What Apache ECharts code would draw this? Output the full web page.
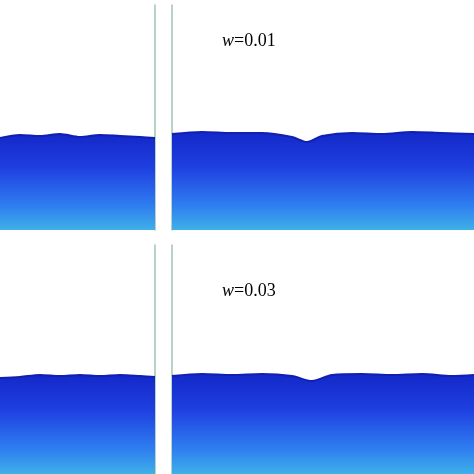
<!DOCTYPE html>
<html>
<head>
<meta charset="UTF-8">
<script src="https://cdn.jsdelivr.net/npm/echarts/dist/echarts.min.js"></script>
<style>html,body{margin:0;background:#fff}#c{width:474px;height:474px}</style>
</head>
<body>
<div id="c"></div>
<script>
// bed surface height (px above panel bottom) along panel x
var tlX = [0, 20, 40, 60, 80, 100, 120, 140, 155];
var tlH = [92, 95, 94, 96, 93, 95, 94, 93, 92];
var trX = [0, 30, 60, 90, 120, 135, 150, 180, 210, 240, 270, 302];
var trH = [96, 98, 97, 97, 93, 88, 94, 97, 96, 98, 97, 96];
var blX = [0, 20, 40, 60, 80, 100, 120, 140, 155];
var blH = [96, 97, 99, 98, 99, 98, 99, 98, 97];
var brX = [0, 30, 60, 90, 120, 140, 160, 190, 220, 250, 280, 302];
var brH = [98, 100, 99, 100, 98, 93, 99, 100, 99, 100, 98, 99];

function pts(xs, hs) { return xs.map(function (x, i) { return [x, hs[i]]; }); }
var fill = new echarts.graphic.LinearGradient(0, 0, 0, 1, [
  { offset: 0, color: '#1428c8' },
  { offset: 0.35, color: '#1f3fe0' },
  { offset: 0.75, color: '#2f7ef0' },
  { offset: 1, color: '#3fb0e8' }
]);
var grids = [
  { left: 0, top: 5, width: 155, height: 225 },
  { left: 172, top: 5, width: 302, height: 225 },
  { left: 0, top: 245, width: 155, height: 229 },
  { left: 172, top: 245, width: 302, height: 229 }
];
var data = [pts(tlX, tlH), pts(trX, trH), pts(blX, blH), pts(brX, brH)];
var xMax = [155, 302, 155, 302];
var yMax = [225, 225, 229, 229];
var lineCol = '#9cc4b4';
var font = { i: { fontStyle: 'italic', fontFamily: 'Liberation Serif', fontSize: 18 }, n: { fontFamily: 'Liberation Serif', fontSize: 18 } };
var option = {
  animation: false,
  grid: grids,
  xAxis: grids.map(function (g, i) {
    return { gridIndex: i, type: 'value', min: 0, max: xMax[i], show: false };
  }),
  yAxis: grids.map(function (g, i) {
    return {
      gridIndex: i, type: 'value', min: 0, max: yMax[i],
      position: i % 2 === 0 ? 'right' : 'left',
      axisLine: { show: true, onZero: false, lineStyle: { color: lineCol, width: 1.5 } },
      axisTick: { show: false }, axisLabel: { show: false }, splitLine: { show: false }
    };
  }),
  series: data.map(function (d, i) {
    return {
      type: 'line', xAxisIndex: i, yAxisIndex: i, data: d, smooth: 0.3,
      symbol: 'none', lineStyle: { color: '#1020b0', width: 2 },
      areaStyle: { color: fill, opacity: 1 }
    };
  }),
  graphic: [
    { type: 'text', left: 222, top: 32, style: { rich: font, text: '{i|w}{n|=0.01}' } },
    { type: 'text', left: 222, top: 282, style: { rich: font, text: '{i|w}{n|=0.03}' } }
  ]
};
echarts.init(document.getElementById('c')).setOption(option);
</script>
</body>
</html>
